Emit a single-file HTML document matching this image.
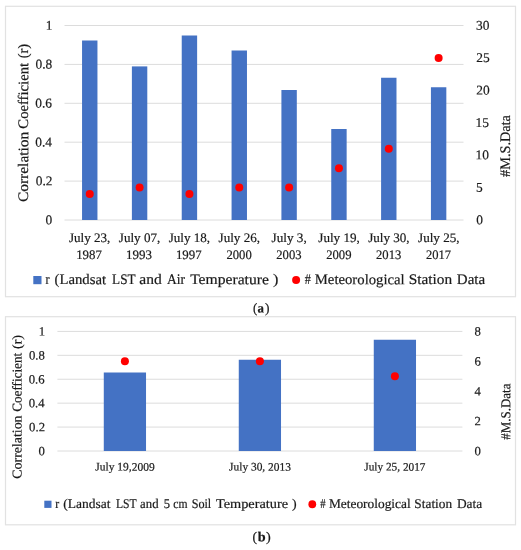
<!DOCTYPE html>
<html><head><meta charset="utf-8"><title>Figure</title>
<style>
html,body{margin:0;padding:0;background:#fff;}
svg{display:block;}
text{font-family:"Liberation Serif", "DejaVu Serif", serif;fill:#1a1a1a;stroke:#1a1a1a;stroke-width:0.2px;}
</style></head><body>
<svg width="521" height="550" viewBox="0 0 521 550">
<rect x="0" y="0" width="521" height="550" fill="#fff"/>
<rect x="5.5" y="6.3" width="510.0" height="290.4" fill="#fff" stroke="#e2e2e2" stroke-width="1.2"/>
<line x1="64.5" y1="25.50" x2="463.5" y2="25.50" stroke="#dcdcdc" stroke-width="1"/>
<line x1="64.5" y1="64.40" x2="463.5" y2="64.40" stroke="#dcdcdc" stroke-width="1"/>
<line x1="64.5" y1="103.30" x2="463.5" y2="103.30" stroke="#dcdcdc" stroke-width="1"/>
<line x1="64.5" y1="142.20" x2="463.5" y2="142.20" stroke="#dcdcdc" stroke-width="1"/>
<line x1="64.5" y1="181.10" x2="463.5" y2="181.10" stroke="#dcdcdc" stroke-width="1"/>
<line x1="64.5" y1="220.00" x2="463.5" y2="220.00" stroke="#dcdcdc" stroke-width="1"/>
<rect x="82.05" y="40.5" width="15.4" height="179.50" fill="#4472c4"/>
<rect x="131.89" y="66.4" width="15.4" height="153.60" fill="#4472c4"/>
<rect x="181.73" y="35.5" width="15.4" height="184.50" fill="#4472c4"/>
<rect x="231.57" y="50.5" width="15.4" height="169.50" fill="#4472c4"/>
<rect x="281.41" y="90" width="15.4" height="130.00" fill="#4472c4"/>
<rect x="331.25" y="129" width="15.4" height="91.00" fill="#4472c4"/>
<rect x="381.09" y="77.75" width="15.4" height="142.25" fill="#4472c4"/>
<rect x="430.93" y="87.25" width="15.4" height="132.75" fill="#4472c4"/>
<circle cx="89.75" cy="194.07" r="4" fill="#ff0000"/>
<circle cx="139.59" cy="187.58" r="4" fill="#ff0000"/>
<circle cx="189.43" cy="194.07" r="4" fill="#ff0000"/>
<circle cx="239.27" cy="187.58" r="4" fill="#ff0000"/>
<circle cx="289.11" cy="187.58" r="4" fill="#ff0000"/>
<circle cx="338.95" cy="168.13" r="4" fill="#ff0000"/>
<circle cx="388.79" cy="148.68" r="4" fill="#ff0000"/>
<circle cx="438.63" cy="57.92" r="4" fill="#ff0000"/>
<text transform="translate(45.73 29.70) rotate(0.04)" font-size="13.4" textLength="6.70" lengthAdjust="spacingAndGlyphs">1</text>
<text transform="translate(35.47 68.60) rotate(0.04)" font-size="13.4" textLength="16.75" lengthAdjust="spacingAndGlyphs">0.8</text>
<text transform="translate(35.26 107.50) rotate(0.04)" font-size="13.4" textLength="16.75" lengthAdjust="spacingAndGlyphs">0.6</text>
<text transform="translate(35.26 146.40) rotate(0.04)" font-size="13.4" textLength="16.75" lengthAdjust="spacingAndGlyphs">0.4</text>
<text transform="translate(35.68 185.30) rotate(0.04)" font-size="13.4" textLength="16.75" lengthAdjust="spacingAndGlyphs">0.2</text>
<text transform="translate(45.52 224.20) rotate(0.04)" font-size="13.4" textLength="6.70" lengthAdjust="spacingAndGlyphs">0</text>
<text transform="translate(475.97 29.70) rotate(0.04)" font-size="13.4" textLength="13.40" lengthAdjust="spacingAndGlyphs">30</text>
<text transform="translate(476.18 62.12) rotate(0.04)" font-size="13.4" textLength="13.40" lengthAdjust="spacingAndGlyphs">25</text>
<text transform="translate(476.18 94.53) rotate(0.04)" font-size="13.4" textLength="13.40" lengthAdjust="spacingAndGlyphs">20</text>
<text transform="translate(475.55 126.95) rotate(0.04)" font-size="13.4" textLength="13.40" lengthAdjust="spacingAndGlyphs">15</text>
<text transform="translate(475.55 159.37) rotate(0.04)" font-size="13.4" textLength="13.40" lengthAdjust="spacingAndGlyphs">10</text>
<text transform="translate(475.97 191.78) rotate(0.04)" font-size="13.4" textLength="6.70" lengthAdjust="spacingAndGlyphs">5</text>
<text transform="translate(476.18 224.20) rotate(0.04)" font-size="13.4" textLength="6.70" lengthAdjust="spacingAndGlyphs">0</text>
<text transform="translate(68.93 242) rotate(0.04)" font-size="13" textLength="41.42" lengthAdjust="spacingAndGlyphs">July 23,</text>
<text transform="translate(76.18 259) rotate(0.04)" font-size="13" textLength="25.70" lengthAdjust="spacingAndGlyphs">1987</text>
<text transform="translate(118.81 242) rotate(0.04)" font-size="13" textLength="41.42" lengthAdjust="spacingAndGlyphs">July 07,</text>
<text transform="translate(126.05 259) rotate(0.04)" font-size="13" textLength="25.92" lengthAdjust="spacingAndGlyphs">1993</text>
<text transform="translate(168.68 242) rotate(0.04)" font-size="13" textLength="41.42" lengthAdjust="spacingAndGlyphs">July 18,</text>
<text transform="translate(175.93 259) rotate(0.04)" font-size="13" textLength="25.70" lengthAdjust="spacingAndGlyphs">1997</text>
<text transform="translate(218.56 242) rotate(0.04)" font-size="13" textLength="41.42" lengthAdjust="spacingAndGlyphs">July 26,</text>
<text transform="translate(226.42 259) rotate(0.04)" font-size="13" textLength="25.29" lengthAdjust="spacingAndGlyphs">2000</text>
<text transform="translate(271.53 242) rotate(0.04)" font-size="13" textLength="35.23" lengthAdjust="spacingAndGlyphs">July 3,</text>
<text transform="translate(276.29 259) rotate(0.04)" font-size="13" textLength="25.29" lengthAdjust="spacingAndGlyphs">2003</text>
<text transform="translate(318.31 242) rotate(0.04)" font-size="13" textLength="41.42" lengthAdjust="spacingAndGlyphs">July 19,</text>
<text transform="translate(326.17 259) rotate(0.04)" font-size="13" textLength="25.29" lengthAdjust="spacingAndGlyphs">2009</text>
<text transform="translate(368.18 242) rotate(0.04)" font-size="13" textLength="41.42" lengthAdjust="spacingAndGlyphs">July 30,</text>
<text transform="translate(376.04 259) rotate(0.04)" font-size="13" textLength="25.29" lengthAdjust="spacingAndGlyphs">2013</text>
<text transform="translate(418.06 242) rotate(0.04)" font-size="13" textLength="41.42" lengthAdjust="spacingAndGlyphs">July 25,</text>
<text transform="translate(425.92 259) rotate(0.04)" font-size="13" textLength="25.09" lengthAdjust="spacingAndGlyphs">2017</text>
<text transform="translate(28.1 202.08) rotate(-89.96)" font-size="14.6" textLength="70.38" lengthAdjust="spacingAndGlyphs">Correlation</text>
<text transform="translate(28.1 128.66) rotate(-89.96)" font-size="14.6" textLength="65.81" lengthAdjust="spacingAndGlyphs">Coefficient</text>
<text transform="translate(28.1 58.35) rotate(-89.96)" font-size="14.6" textLength="14.48" lengthAdjust="spacingAndGlyphs">(r)</text>
<text transform="translate(510 176.92) rotate(-89.96)" font-size="14.6" textLength="61.81" lengthAdjust="spacingAndGlyphs">#M.S.Data</text>
<rect x="33.3" y="276" width="8.2" height="8.2" fill="#4472c4"/>
<text transform="translate(45.51 284.1) rotate(0.04)" font-size="14.6" textLength="4.05" lengthAdjust="spacingAndGlyphs">r</text>
<text transform="translate(54.54 284.1) rotate(0.04)" font-size="14.6" textLength="51.51" lengthAdjust="spacingAndGlyphs">(Landsat</text>
<text transform="translate(112.09 284.1) rotate(0.04)" font-size="14.6" textLength="23.43" lengthAdjust="spacingAndGlyphs">LST</text>
<text transform="translate(139.31 284.1) rotate(0.04)" font-size="14.6" textLength="22.44" lengthAdjust="spacingAndGlyphs">and</text>
<text transform="translate(167.00 284.1) rotate(0.04)" font-size="14.6" textLength="18.07" lengthAdjust="spacingAndGlyphs">Air</text>
<text transform="translate(190.16 284.1) rotate(0.04)" font-size="14.6" textLength="78.69" lengthAdjust="spacingAndGlyphs">Temperature</text>
<text transform="translate(272.99 284.1) rotate(0.04)" font-size="14.6" textLength="5.39" lengthAdjust="spacingAndGlyphs">)</text>
<text transform="translate(304.81 284.1) rotate(0.04)" font-size="14.6" textLength="6.08" lengthAdjust="spacingAndGlyphs">#</text>
<text transform="translate(314.77 284.1) rotate(0.04)" font-size="14.6" textLength="89.91" lengthAdjust="spacingAndGlyphs">Meteorological</text>
<text transform="translate(408.64 284.1) rotate(0.04)" font-size="14.6" textLength="43.46" lengthAdjust="spacingAndGlyphs">Station</text>
<text transform="translate(456.87 284.1) rotate(0.04)" font-size="14.6" textLength="28.33" lengthAdjust="spacingAndGlyphs">Data</text>
<circle cx="296.1" cy="280" r="4" fill="#ff0000"/>
<text transform="translate(253.00 312.6) rotate(0.04)" font-size="13.6" textLength="4.26" lengthAdjust="spacingAndGlyphs">(</text>
<text transform="translate(257.40 312.6) rotate(0.04)" font-size="13.6" textLength="6.40" lengthAdjust="spacingAndGlyphs" font-weight="bold">a</text>
<text transform="translate(264.88 312.6) rotate(0.04)" font-size="13.6" textLength="4.51" lengthAdjust="spacingAndGlyphs">)</text>
<rect x="5.5" y="316.7" width="510.0" height="208.1" fill="#fff" stroke="#e2e2e2" stroke-width="1.2"/>
<line x1="57.4" y1="331.40" x2="462.4" y2="331.40" stroke="#dcdcdc" stroke-width="1"/>
<line x1="57.4" y1="355.32" x2="462.4" y2="355.32" stroke="#dcdcdc" stroke-width="1"/>
<line x1="57.4" y1="379.24" x2="462.4" y2="379.24" stroke="#dcdcdc" stroke-width="1"/>
<line x1="57.4" y1="403.16" x2="462.4" y2="403.16" stroke="#dcdcdc" stroke-width="1"/>
<line x1="57.4" y1="427.08" x2="462.4" y2="427.08" stroke="#dcdcdc" stroke-width="1"/>
<line x1="57.4" y1="451.00" x2="462.4" y2="451.00" stroke="#dcdcdc" stroke-width="1"/>
<rect x="103.78" y="372.5" width="42.25" height="78.50" fill="#4472c4"/>
<rect x="238.77" y="359.75" width="42.25" height="91.25" fill="#4472c4"/>
<rect x="373.77" y="339.75" width="42.25" height="111.25" fill="#4472c4"/>
<circle cx="124.90" cy="361.30" r="4" fill="#ff0000"/>
<circle cx="259.90" cy="361.30" r="4" fill="#ff0000"/>
<circle cx="394.90" cy="376.25" r="4" fill="#ff0000"/>
<text transform="translate(38.65 335.60) rotate(0.04)" font-size="12.7" textLength="6.35" lengthAdjust="spacingAndGlyphs">1</text>
<text transform="translate(28.92 359.52) rotate(0.04)" font-size="12.7" textLength="15.87" lengthAdjust="spacingAndGlyphs">0.8</text>
<text transform="translate(28.72 383.44) rotate(0.04)" font-size="12.7" textLength="15.88" lengthAdjust="spacingAndGlyphs">0.6</text>
<text transform="translate(28.72 407.36) rotate(0.04)" font-size="12.7" textLength="15.88" lengthAdjust="spacingAndGlyphs">0.4</text>
<text transform="translate(29.12 431.28) rotate(0.04)" font-size="12.7" textLength="15.88" lengthAdjust="spacingAndGlyphs">0.2</text>
<text transform="translate(38.45 455.20) rotate(0.04)" font-size="12.7" textLength="6.35" lengthAdjust="spacingAndGlyphs">0</text>
<text transform="translate(474.40 335.60) rotate(0.04)" font-size="12.7" textLength="6.35" lengthAdjust="spacingAndGlyphs">8</text>
<text transform="translate(474.40 365.50) rotate(0.04)" font-size="12.7" textLength="6.35" lengthAdjust="spacingAndGlyphs">6</text>
<text transform="translate(474.60 395.40) rotate(0.04)" font-size="12.7" textLength="6.35" lengthAdjust="spacingAndGlyphs">4</text>
<text transform="translate(474.40 425.30) rotate(0.04)" font-size="12.7" textLength="6.35" lengthAdjust="spacingAndGlyphs">2</text>
<text transform="translate(474.40 455.20) rotate(0.04)" font-size="12.7" textLength="6.35" lengthAdjust="spacingAndGlyphs">0</text>
<text transform="translate(95.32 470.6) rotate(0.04)" font-size="11.6" textLength="59.34" lengthAdjust="spacingAndGlyphs">July 19,2009</text>
<text transform="translate(229.12 470.6) rotate(0.04)" font-size="11.6" textLength="61.73" lengthAdjust="spacingAndGlyphs">July 30, 2013</text>
<text transform="translate(364.32 470.6) rotate(0.04)" font-size="11.6" textLength="61.15" lengthAdjust="spacingAndGlyphs">July 25, 2017</text>
<text transform="translate(21.5 478.63) rotate(-89.96)" font-size="13.5" textLength="63.13" lengthAdjust="spacingAndGlyphs">Correlation</text>
<text transform="translate(21.5 411.81) rotate(-89.96)" font-size="13.5" textLength="58.97" lengthAdjust="spacingAndGlyphs">Coefficient</text>
<text transform="translate(21.5 349.04) rotate(-89.96)" font-size="13.5" textLength="14.05" lengthAdjust="spacingAndGlyphs">(r)</text>
<text transform="translate(510.2 439.80) rotate(-89.96)" font-size="13.5" textLength="56.29" lengthAdjust="spacingAndGlyphs">#M.S.Data</text>
<rect x="44.3" y="500.7" width="7.2" height="7.2" fill="#4472c4"/>
<text transform="translate(55.31 508) rotate(0.04)" font-size="13.3" textLength="3.94" lengthAdjust="spacingAndGlyphs">r</text>
<text transform="translate(63.28 508) rotate(0.04)" font-size="13.3" textLength="47.28" lengthAdjust="spacingAndGlyphs">(Landsat</text>
<text transform="translate(115.92 508) rotate(0.04)" font-size="13.3" textLength="20.70" lengthAdjust="spacingAndGlyphs">LST</text>
<text transform="translate(140.10 508) rotate(0.04)" font-size="13.3" textLength="18.40" lengthAdjust="spacingAndGlyphs">and</text>
<text transform="translate(163.71 508) rotate(0.04)" font-size="13.3" textLength="6.28" lengthAdjust="spacingAndGlyphs">5</text>
<text transform="translate(173.34 508) rotate(0.04)" font-size="13.3" textLength="14.21" lengthAdjust="spacingAndGlyphs">cm</text>
<text transform="translate(191.64 508) rotate(0.04)" font-size="13.3" textLength="19.61" lengthAdjust="spacingAndGlyphs">Soil</text>
<text transform="translate(215.88 508) rotate(0.04)" font-size="13.3" textLength="72.24" lengthAdjust="spacingAndGlyphs">Temperature</text>
<text transform="translate(292.06 508) rotate(0.04)" font-size="13.3" textLength="4.64" lengthAdjust="spacingAndGlyphs">)</text>
<text transform="translate(320.23 508) rotate(0.04)" font-size="13.3" textLength="5.33" lengthAdjust="spacingAndGlyphs">#</text>
<text transform="translate(328.89 508) rotate(0.04)" font-size="13.3" textLength="81.77" lengthAdjust="spacingAndGlyphs">Meteorological</text>
<text transform="translate(414.37 508) rotate(0.04)" font-size="13.3" textLength="37.73" lengthAdjust="spacingAndGlyphs">Station</text>
<text transform="translate(456.89 508) rotate(0.04)" font-size="13.3" textLength="25.29" lengthAdjust="spacingAndGlyphs">Data</text>
<circle cx="312.3" cy="504.25" r="3.9" fill="#ff0000"/>
<text transform="translate(252.58 541.3) rotate(0.04)" font-size="13.6" textLength="4.50" lengthAdjust="spacingAndGlyphs">(</text>
<text transform="translate(257.70 541.3) rotate(0.04)" font-size="13.6" textLength="7.87" lengthAdjust="spacingAndGlyphs" font-weight="bold">b</text>
<text transform="translate(265.95 541.3) rotate(0.04)" font-size="13.6" textLength="4.76" lengthAdjust="spacingAndGlyphs">)</text>
</svg>
</body></html>
